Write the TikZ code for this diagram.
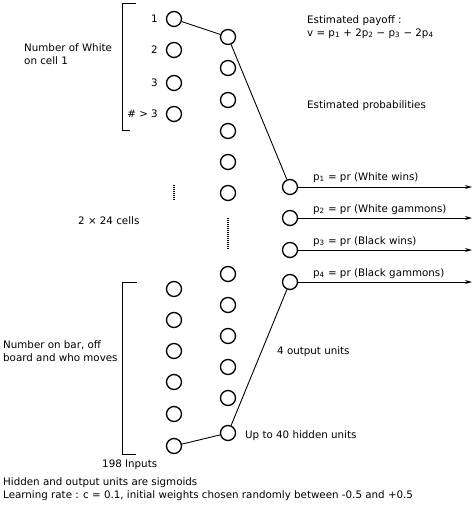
\documentclass[tikz,border=0pt]{standalone}
\usepackage{fontspec}
\setmainfont{DejaVu Sans}
\usetikzlibrary{arrows.meta}

\tikzset{
  unit/.style={circle, draw, line width=1.3pt, minimum size=15pt, inner sep=0pt},
  lbl/.style={font=\fontsize{10.3}{13}\selectfont, inner sep=0pt, align=left},
  wire/.style={line width=0.9pt},
  outarrow/.style={line width=0.9pt, -{Stealth[length=7pt,width=4pt]}},
  dots/.style={line width=1.2pt, dash pattern=on 1pt off 1pt}
}

\begin{document}
\begin{tikzpicture}[x=1pt,y=-1pt]
			\useasboundingbox (0,0) rectangle (476,531);
			
			% Input units, first cell and board part
			\foreach \y [count=\i] in {19,50,83,114}
				\node[unit] (in\i) at (174,\y) {};
			\foreach \y [count=\i] in {289,320,351,382,414,446}
				\node[unit] (inb\i) at (174,\y) {};
			
			% Hidden units
			\foreach \y [count=\i] in {37,68,100,131,162,193}
				\node[unit] (hid\i) at (228,\y) {};
			\foreach \y [count=\i] in {274,305,336,367,398,433}
				\node[unit] (hidb\i) at (228,\y) {};
			
			% Output units with their arrows
			\foreach \y [count=\i] in {187,218,250,282} {
				\node[unit] (out\i) at (290,\y) {};
				\coordinate (end\i) at (472,\y);
				\draw[outarrow] (out\i) -- (end\i);
			}
			
			% Labels of the first input units
			\node[lbl, anchor=base east] (n1) at (158,22) {1};
			\node[lbl, anchor=base east] (n2) at (158,53) {2};
			\node[lbl, anchor=base east] (n3) at (158,86) {3};
			\node[lbl, anchor=base east] (n4) at (158,117) {\# > 3};
			
			% Connections
			\draw[wire] (in1) -- (hid1);
			\draw[wire] (hid1) -- (out1);
			\draw[wire] (inb6) -- (hidb6);
			\draw[wire] (hidb6) -- (out4);
			
			% Dotted gaps in the columns
			\draw[dots] (174,185) -- (174,201);
			\draw[dots] (228,218) -- (228,249);
			
			% Brackets round the inputs
			\draw[wire] (136,3) -- (122,3) -- (122,130) -- (130,130);
			\draw[wire] (137,282) -- (122,282) -- (122,454) -- (136,454);
			
			% Output labels
			\node[lbl, anchor=base west] (p1) at (313,180) {p\textsubscript{1} = pr (White wins)};
			\node[lbl, anchor=base west] (p2) at (313,212) {p\textsubscript{2} = pr (White gammons)};
			\node[lbl, anchor=base west] (p3) at (313,244) {p\textsubscript{3} = pr (Black wins)};
			\node[lbl, anchor=base west] (p4) at (313,276) {p\textsubscript{4} = pr (Black gammons)};
			
			% Texts
			\node[lbl, anchor=base west] (payoff) at (307,36) {Estimated payoff :\\v = p\textsubscript{1} + 2p\textsubscript{2} − p\textsubscript{3} − 2p\textsubscript{4}};
			\node[lbl, anchor=base west] (prob) at (307,108) {Estimated probabilities};
			\node[lbl, anchor=base west] (white) at (24,64) {Number of White\\on cell 1};
			\node[lbl, anchor=base west] (cells) at (78,224) {2 × 24 cells};
			\node[lbl, anchor=base west] (bar) at (3,361) {Number on bar, off\\board and who moves};
			\node[lbl, anchor=base west] (nout) at (277,354) {4 output units};
			\node[lbl, anchor=base west] (nhid) at (245,438) {Up to 40 hidden units};
			\node[lbl, anchor=base west] (nin) at (102,467) {198 Inputs};
			\node[lbl, anchor=base west] (note) at (3,498) {Hidden and output units are sigmoids\\Learning rate : c = 0.1, initial weights chosen randomly between -0.5 and +0.5};
		\end{tikzpicture}
\end{document}
